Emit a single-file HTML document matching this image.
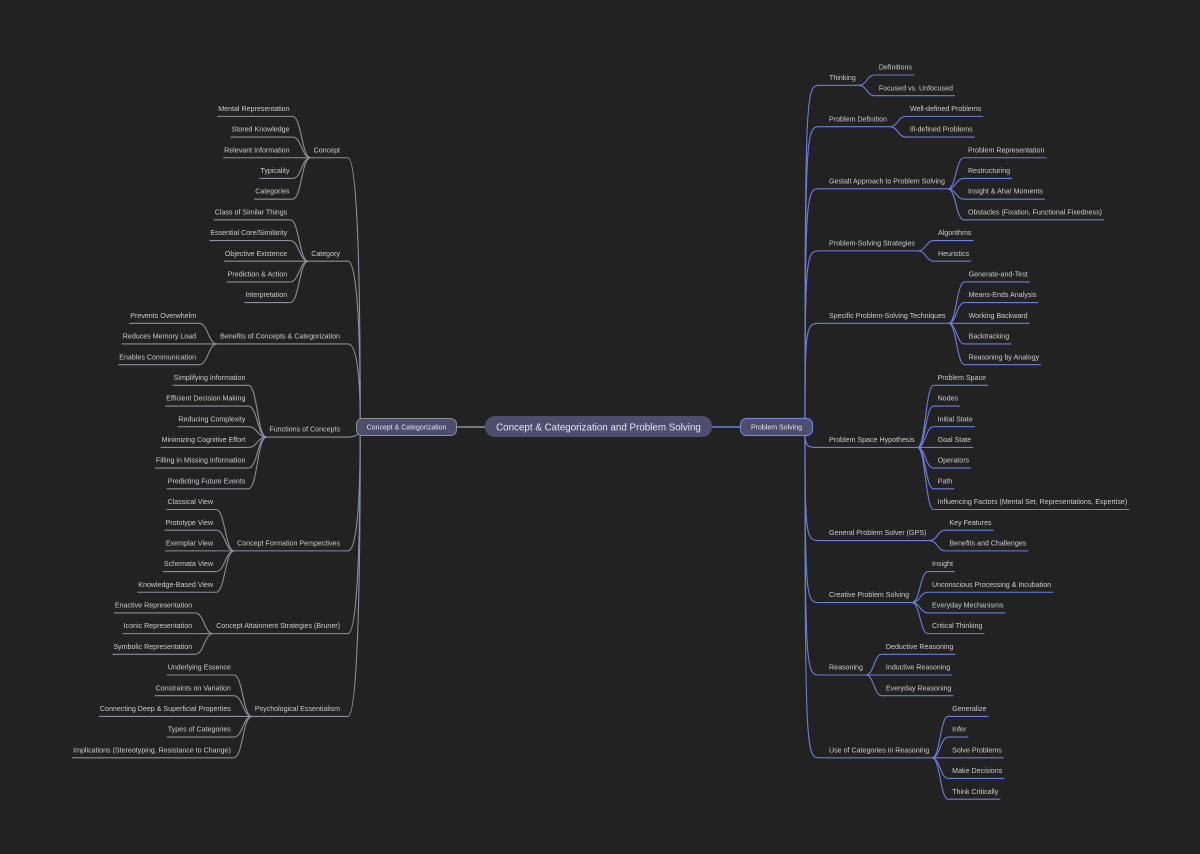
<!DOCTYPE html>
<html><head><meta charset="utf-8"><style>
html,body{margin:0;padding:0;background:#222222;}
svg{display:block;}
text{font-family:"Liberation Sans",sans-serif;font-size:7.1px;fill:#cccccc;}
</style></head><body>
<svg id="s" width="1200" height="854" xmlns="http://www.w3.org/2000/svg">
<rect width="1200" height="854" fill="#222222"/>
<g id="g"></g>
<path d="M457 427 H487" stroke="#8a8f9c" stroke-width="1.5" fill="none"/>
<path d="M711 427 H741" stroke="#6b7fe0" stroke-width="1.5" fill="none"/>
<rect x="485" y="416" width="227" height="21" rx="10" fill="#4b4f6d"/>
<text x="598.5" y="430.5" text-anchor="middle" style="font-size:9.8px;fill:#e6e6ea">Concept &amp; Categorization and Problem Solving</text>
<rect x="356.5" y="418.5" width="100" height="17" rx="6" fill="#4b4f6d" stroke="#8a8f9c" stroke-width="1"/>
<text x="406.5" y="429.5" text-anchor="middle" style="font-size:7px;fill:#e6e6ea">Concept &amp; Categorization</text>
<rect x="740.5" y="418.5" width="72" height="17" rx="6" fill="#4b4f6d" stroke="#6b7fe0" stroke-width="1.2"/>
<text x="776.5" y="429.5" text-anchor="middle" style="font-size:7px;fill:#e6e6ea">Problem Solving</text>
</svg>
<script>
const R=i=>67+20.69*i;
const left=[
["Concept",2,["Mental Representation","Stored Knowledge","Relevant Information","Typicality","Categories"]],
["Category",7,["Class of Similar Things","Essential Core/Similarity","Objective Existence","Prediction & Action","Interpretation"]],
["Benefits of Concepts & Categorization",12,["Prevents Overwhelm","Reduces Memory Load","Enables Communication"]],
["Functions of Concepts",15,["Simplifying Information","Efficient Decision Making","Reducing Complexity","Minimizing Cognitive Effort","Filling in Missing Information","Predicting Future Events"]],
["Concept Formation Perspectives",21,["Classical View","Prototype View","Exemplar View","Schemata View","Knowledge-Based View"]],
["Concept Attainment Strategies (Bruner)",26,["Enactive Representation","Iconic Representation","Symbolic Representation"]],
["Psychological Essentialism",29,["Underlying Essence","Constraints on Variation","Connecting Deep & Superficial Properties","Types of Categories","Implications (Stereotyping, Resistance to Change)"]]];
const right=[
["Thinking",0,["Definitions","Focused vs. Unfocused"]],
["Problem Definition",2,["Well-defined Problems","Ill-defined Problems"]],
["Gestalt Approach to Problem Solving",4,["Problem Representation","Restructuring","Insight & Aha! Moments","Obstacles (Fixation, Functional Fixedness)"]],
["Problem-Solving Strategies",8,["Algorithms","Heuristics"]],
["Specific Problem-Solving Techniques",10,["Generate-and-Test","Means-Ends Analysis","Working Backward","Backtracking","Reasoning by Analogy"]],
["Problem Space Hypothesis",15,["Problem Space","Nodes","Initial State","Goal State","Operators","Path","Influencing Factors (Mental Set, Representations, Expertise)"]],
["General Problem Solver (GPS)",22,["Key Features","Benefits and Challenges"]],
["Creative Problem Solving",24,["Insight","Unconscious Processing & Incubation","Everyday Mechanisms","Critical Thinking"]],
["Reasoning",28,["Deductive Reasoning","Inductive Reasoning","Everyday Reasoning"]],
["Use of Categories in Reasoning",31,["Generalize","Infer","Solve Problems","Make Decisions","Think Critically"]]];
const g=document.getElementById('g');const NS="http://www.w3.org/2000/svg";
function T(x,y,s,anchor){const t=document.createElementNS(NS,'text');t.setAttribute('x',x);t.setAttribute('y',y+2.6);if(anchor)t.setAttribute('text-anchor',anchor);t.textContent=s;g.appendChild(t);return t.getComputedTextLength();}
function P(d,c){const p=document.createElementNS(NS,'path');p.setAttribute('d',d);p.setAttribute('stroke',c);p.setAttribute('stroke-width','1.1');p.setAttribute('fill','none');g.appendChild(p);}
function cur(x1,y1,x2,y2){const m=(x1+x2)/2;return `M${x1} ${y1} C${m} ${y1} ${m} ${y2} ${x2} ${y2}`;}
const LC="#8a8f9c",RC="#6b7fe0";
left.forEach(([lab,st,ch])=>{const y=R(st+(ch.length-1)/2);const w=T(340,y,lab,'end');const us=340-w-3,ue=348,uy=y+8;
P(`M${us} ${uy} H${ue}`,LC);P(`M${ue} ${uy} C${362} ${uy} ${360} ${427} ${360} 427`,LC);
ch.forEach((c,i)=>{const cy=R(st+i);const ce=us-18;const cw=T(ce-3,cy,c,'end');const cuy=cy+8;P(`M${ce-3-cw-1} ${cuy} H${ce}`,LC);P(cur(us,uy,ce,cuy),LC);});});
right.forEach(([lab,st,ch])=>{const y=R(st+(ch.length-1)/2);const w=T(829,y,lab);const us=820,ue=829+w+3,uy=y+8;
P(`M${us} ${uy} H${ue}`,RC);P(`M805 427 C805 ${uy} 806 ${uy} ${us} ${uy}`,RC);
ch.forEach((c,i)=>{const cy=R(st+i);const cs=ue+16;const cw=T(cs+4,cy,c);const cuy=cy+8;P(`M${cs} ${cuy} H${cs+4+cw+2}`,RC);P(cur(ue,uy,cs,cuy),RC);});});
</script>
</body></html>
